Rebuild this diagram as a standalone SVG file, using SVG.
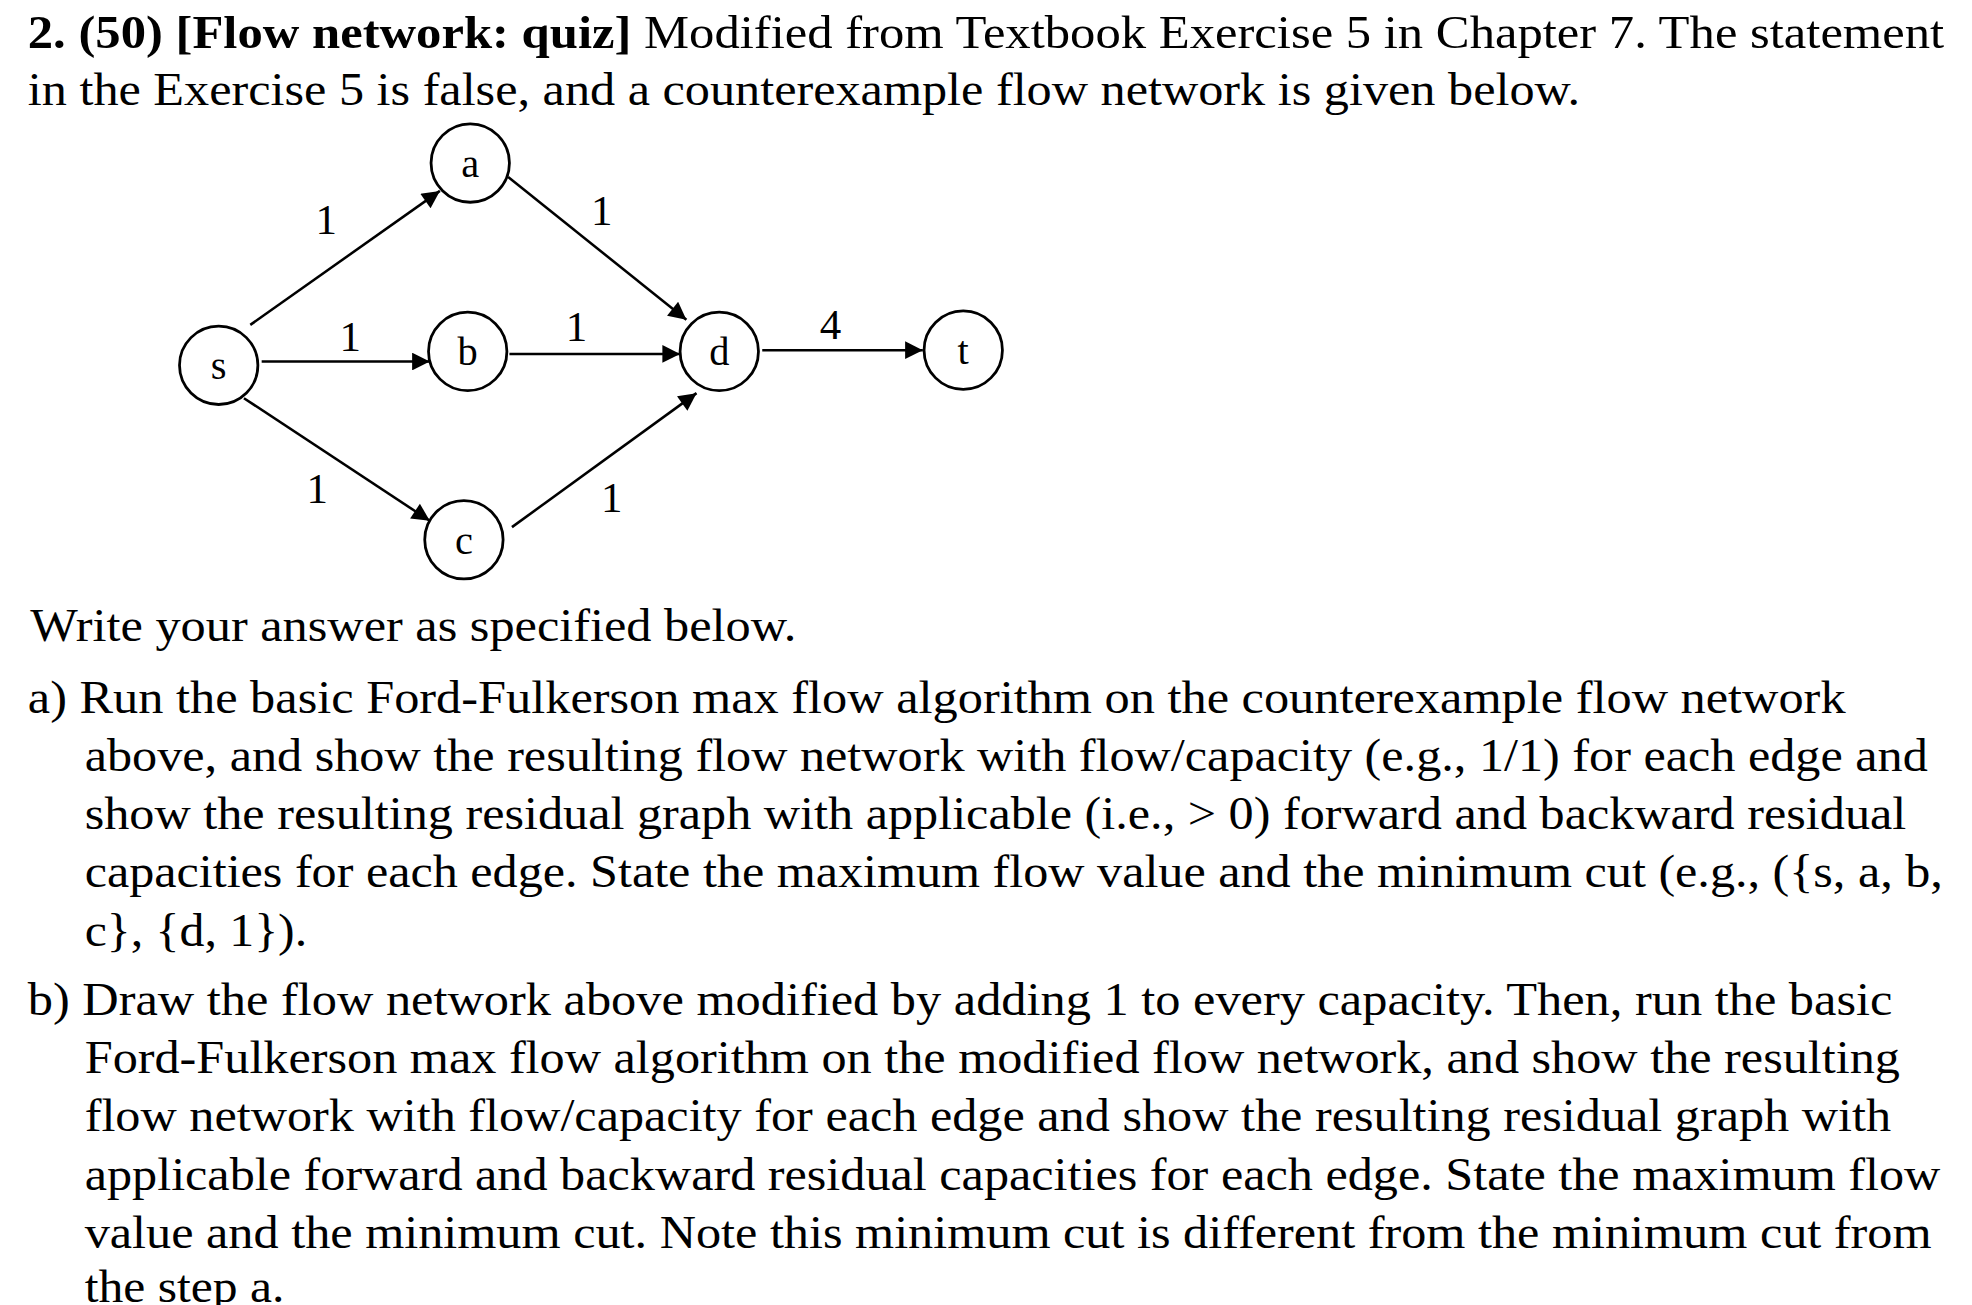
<svg xmlns="http://www.w3.org/2000/svg" width="1972" height="1305" viewBox="0 0 1972 1305">
<style>
text{font-family:"Liberation Serif","Times New Roman",serif;fill:#000}
.t{font-size:36px}
.n circle{fill:#fff;stroke:#000;stroke-width:2.2}
.n text{font-size:32px;text-anchor:middle}
.e line{stroke:#000;stroke-width:2;marker-end:url(#ah)}
.l{font-size:34px;text-anchor:middle}
</style>
<defs><marker id="ah" viewBox="0 0 10 10" refX="10" refY="5" markerWidth="18" markerHeight="14" markerUnits="userSpaceOnUse" orient="auto"><path d="M0,0L10,5L0,10z" fill="#000"/></marker></defs>
<rect width="1972" height="1305" fill="#fff"/>
<g transform="scale(1.2641)">
<g id="text">
<text class="t" x="22" y="38" textLength="1516" lengthAdjust="spacingAndGlyphs"><tspan font-weight="bold">2. (50) [Flow network: quiz]</tspan> Modified from Textbook Exercise 5 in Chapter 7.  The statement</text>
<text class="t" x="22" y="83" textLength="1228" lengthAdjust="spacingAndGlyphs">in the Exercise 5 is false, and a counterexample flow network is given below.</text>
<text class="t" x="24" y="507" textLength="606" lengthAdjust="spacingAndGlyphs">Write your answer as specified below.</text>
<text class="t" x="22" y="564" textLength="1438" lengthAdjust="spacingAndGlyphs">a) Run the basic Ford-Fulkerson max flow algorithm on the counterexample flow network</text>
<text class="t" x="67" y="610" textLength="1458" lengthAdjust="spacingAndGlyphs">above, and show the resulting flow network with flow/capacity (e.g., 1/1) for each edge and</text>
<text class="t" x="67" y="656" textLength="1441" lengthAdjust="spacingAndGlyphs">show the resulting residual graph with applicable (i.e., &gt; 0) forward and backward residual</text>
<text class="t" x="67" y="702" textLength="1470" lengthAdjust="spacingAndGlyphs">capacities for each edge. State the maximum flow value and the minimum cut (e.g., ({s, a, b,</text>
<text class="t" x="67" y="748" textLength="176" lengthAdjust="spacingAndGlyphs">c}, {d, 1}).</text>
<text class="t" x="22" y="803" textLength="1475" lengthAdjust="spacingAndGlyphs">b) Draw the flow network above modified by adding 1 to every capacity. Then, run the basic</text>
<text class="t" x="67" y="849" textLength="1436" lengthAdjust="spacingAndGlyphs">Ford-Fulkerson max flow algorithm on the modified flow network, and show the resulting</text>
<text class="t" x="67" y="895" textLength="1429" lengthAdjust="spacingAndGlyphs">flow network with flow/capacity for each edge and show the resulting residual graph with</text>
<text class="t" x="67" y="941" textLength="1468" lengthAdjust="spacingAndGlyphs">applicable forward and backward residual capacities for each edge. State the maximum flow</text>
<text class="t" x="67" y="987" textLength="1461" lengthAdjust="spacingAndGlyphs">value and the minimum cut. Note this minimum cut is different from the minimum cut from</text>
<text class="t" x="67" y="1030" textLength="158" lengthAdjust="spacingAndGlyphs">the step a.</text>
</g>
<g id="edges" class="e">
<line x1="198" y1="257" x2="348" y2="151"/>
<line x1="402" y1="140" x2="543" y2="253"/>
<line x1="207" y1="286" x2="340" y2="286"/>
<line x1="403" y1="280" x2="538" y2="280"/>
<line x1="603" y1="277" x2="730" y2="277"/>
<line x1="193" y1="315" x2="340" y2="412"/>
<line x1="405" y1="417" x2="551" y2="311"/>
</g>
<g id="labels">
<text class="l" x="258" y="185">1</text>
<text class="l" x="476" y="178">1</text>
<text class="l" x="277" y="278">1</text>
<text class="l" x="456" y="270">1</text>
<text class="l" x="657" y="268">4</text>
<text class="l" x="251" y="398">1</text>
<text class="l" x="484" y="405">1</text>
</g>
<g id="node-a" class="n"><circle cx="372" cy="129" r="31"/><text x="372" y="140">a</text></g>
<g id="node-s" class="n"><circle cx="173" cy="289" r="31"/><text x="173" y="300">s</text></g>
<g id="node-b" class="n"><circle cx="370" cy="278" r="31"/><text x="370" y="289">b</text></g>
<g id="node-d" class="n"><circle cx="569" cy="278" r="31"/><text x="569" y="289">d</text></g>
<g id="node-t" class="n"><circle cx="762" cy="277" r="31"/><text x="762" y="288">t</text></g>
<g id="node-c" class="n"><circle cx="367" cy="427" r="31"/><text x="367" y="438">c</text></g>
</g>
</svg>
